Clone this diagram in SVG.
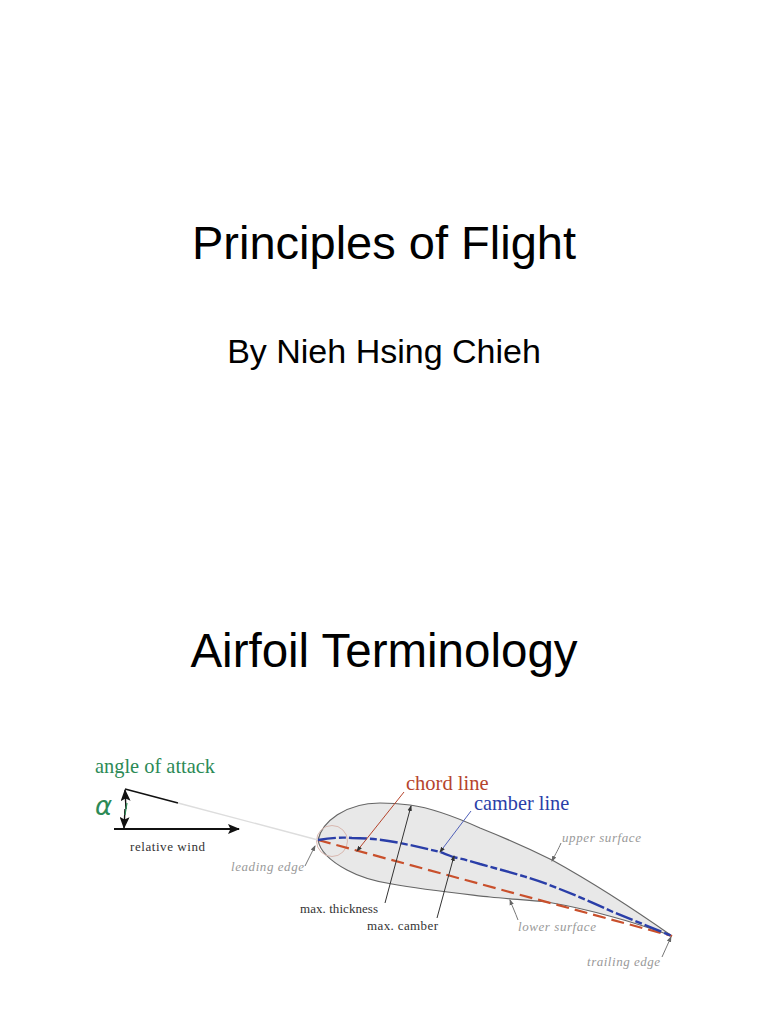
<svg xmlns="http://www.w3.org/2000/svg" width="768" height="1024" viewBox="0 0 768 1024">
<defs>
<marker id="a" markerWidth="6" markerHeight="6" refX="5" refY="3" orient="auto" markerUnits="userSpaceOnUse"><path d="M0 0.8L6 3L0 5.2z" fill="#333"/></marker>
<marker id="ag" markerWidth="6" markerHeight="6" refX="5" refY="3" orient="auto" markerUnits="userSpaceOnUse"><path d="M0 0.8L6 3L0 5.2z" fill="#666"/></marker>
<marker id="b" markerWidth="12" markerHeight="10" refX="11" refY="5" orient="auto" markerUnits="userSpaceOnUse"><path d="M0 0L12 5L0 10L2.5 5z" fill="#111"/></marker>
</defs>
<style>
.sans{font-family:"Liberation Sans",Arial,sans-serif;fill:#000}
.serif{font-family:"Liberation Serif","Times New Roman",serif}
.lab{font-size:13px;fill:#333}
.grey{font-size:13px;fill:#999;font-style:italic}
.lead{fill:none;stroke:#333;stroke-width:1}
.leadg{fill:none;stroke:#777;stroke-width:1}
</style>
<rect width="768" height="1024" fill="#fff"/>
<g id="titles">
<text class="sans" x="384" y="259" font-size="47" text-anchor="middle">Principles of Flight</text>
<text class="sans" x="384" y="363" font-size="34" text-anchor="middle">By Nieh Hsing Chieh</text>
<text class="sans" x="384" y="667" font-size="47.5" text-anchor="middle">Airfoil Terminology</text>
</g>
<g id="airfoil">
<path d="M318 840C322 822 345 803 380 803C392 803 402 804 410 805C432 808 458 818 480 828C505 838 530 849 552 860C590 881 635 910 672 936C650 928 632 922 613 917C592 911 570 906 547 902C528 900 510 899 490 897C465 894 425 890 392 884C372 881 358 876 347 870C332 862 320 852 318 840Z" fill="#e8e8e8" stroke="#666" stroke-width="1.2"/>
<circle cx="332" cy="841" r="15.5" fill="none" stroke="#d9b8b0" stroke-width="1"/>
</g>
<g id="connectors">
<path d="M125 789L178 803" fill="none" stroke="#111" stroke-width="1.6"/>
<path d="M178 803L318 840" fill="none" stroke="#ddd" stroke-width="1.4"/>
<path d="M114 829H239" fill="none" stroke="#111" stroke-width="1.8" marker-end="url(#b)"/>
<path d="M126 809L125 790" fill="none" stroke="#111" stroke-width="1.4" marker-end="url(#b)"/>
<path d="M125 809L124 828" fill="none" stroke="#111" stroke-width="1.4" marker-end="url(#b)"/>
<path d="M127 803L125 815" fill="none" stroke="#2c8a56" stroke-width="1.2"/>
<path d="M318 840L672 936" fill="none" stroke="#c9502c" stroke-width="2.2" stroke-dasharray="13 6"/>
<path d="M318 840C330 838 341 837 352 838C370 838 385 840 400 843C415 846 428 849 440 852C445 854 449 855 453 857C462 859 471 861 480 864C505 871 525 876 547 884C570 893 592 902 613 912C635 921 655 929 672 936" fill="none" stroke="#2a3ea8" stroke-width="2.4" stroke-dasharray="18 3 7 3"/>
<path d="M404 792L357 851" class="lead" style="stroke:#b5442c" marker-end="url(#a)"/>
<path d="M471 811L440 852" class="lead" style="stroke:#5060b8" marker-end="url(#a)"/>
<path d="M385 903L411 806" class="lead" marker-end="url(#a)"/>
<path d="M437 918L454 856" class="lead" marker-end="url(#a)"/>
<path d="M305 866L315 846" class="leadg" marker-end="url(#ag)"/>
<path d="M561 843C558 850 556 853 552 861" class="leadg" marker-end="url(#ag)"/>
<path d="M518 920C515 912 513 908 510 900" class="leadg" marker-end="url(#ag)"/>
<path d="M662 957L671 937" class="leadg" marker-end="url(#ag)"/>
</g>
<g id="labels">
<text class="serif" x="95" y="773" font-size="20.4" fill="#2c8a56">angle of attack</text>
<text x="95" y="815" font-size="26" font-style="italic" fill="#2c8a56" font-family="'DejaVu Sans',sans-serif">α</text>
<text class="serif lab" x="130" y="851" textLength="75">relative wind</text>
<text class="serif grey" x="231" y="871" textLength="73">leading edge</text>
<text class="serif" x="406" y="790" font-size="20.5" fill="#b5442c">chord line</text>
<text class="serif" x="474" y="810" font-size="20.3" fill="#2a3ea8">camber line</text>
<text class="serif grey" x="562" y="842" textLength="79">upper surface</text>
<text class="serif lab" x="300" y="913" textLength="78">max. thickness</text>
<text class="serif lab" x="367" y="930" textLength="71">max. camber</text>
<text class="serif grey" x="518" y="931" textLength="78">lower surface</text>
<text class="serif grey" x="587" y="966" textLength="73">trailing edge</text>
</g>
</svg>
